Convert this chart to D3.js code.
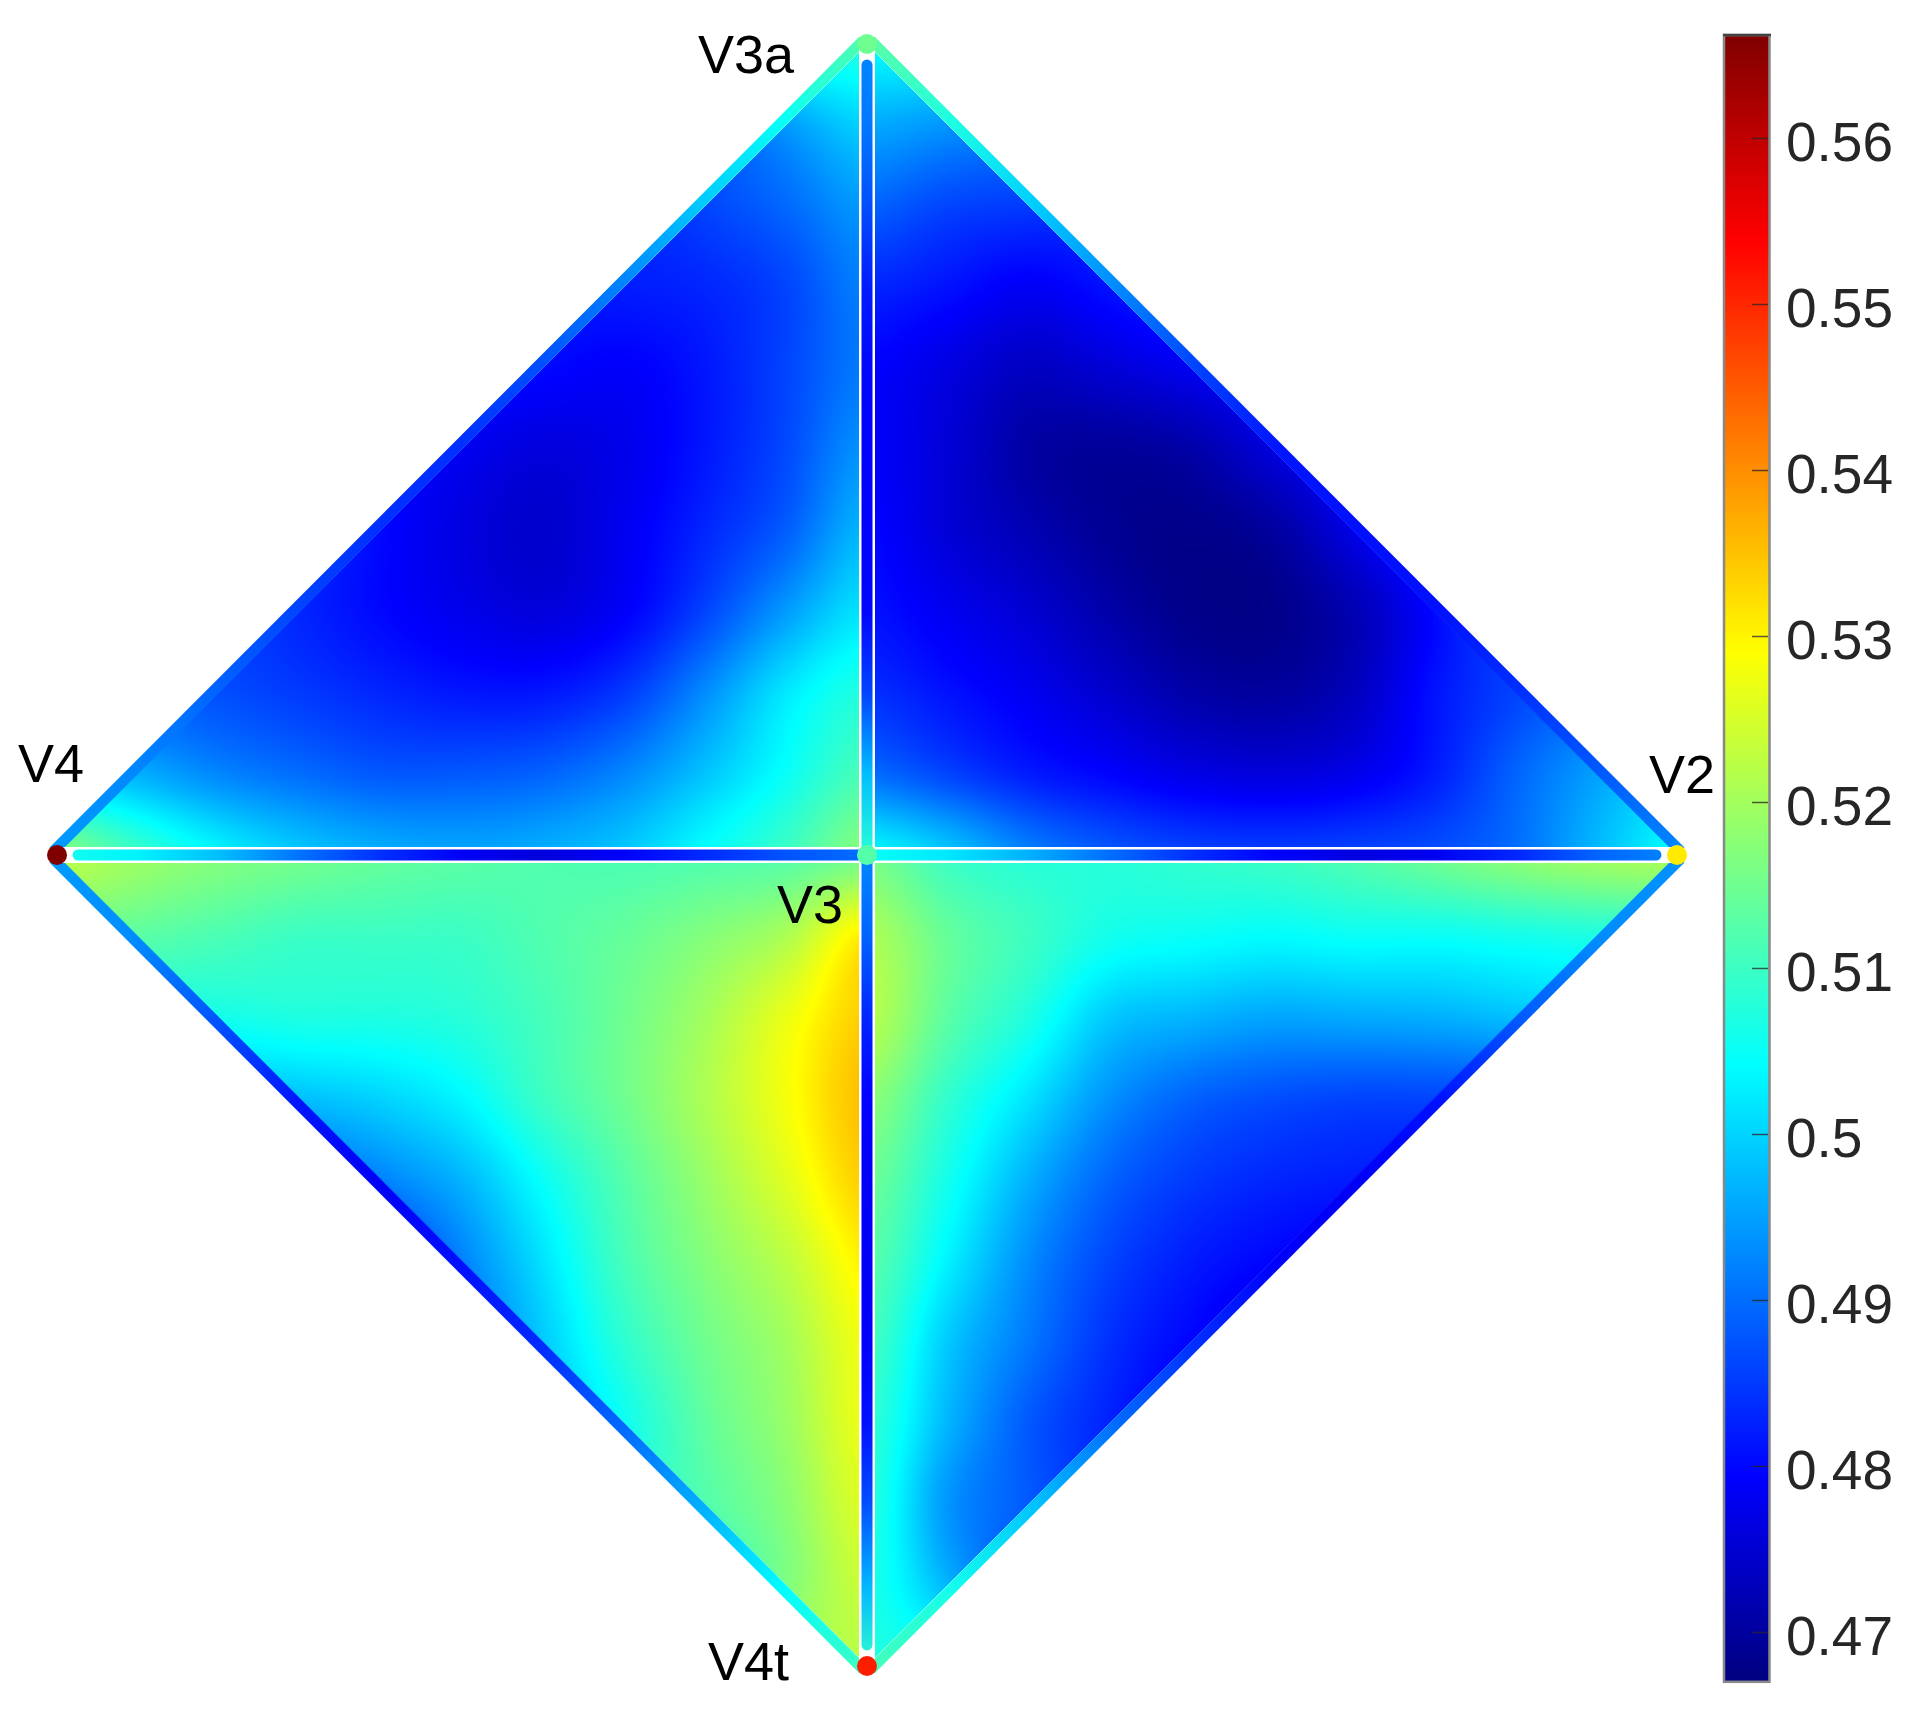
<!DOCTYPE html>
<html lang="en">
<head>
<meta charset="utf-8">
<title>V2 V3 V3a V4 V4t map</title>
<style type="text/css">
body { margin: 0; background: #fff; }
canvas, svg { position: absolute; left: 0; top: 0; }
text { font-family: "Liberation Sans", Arial, sans-serif; }
</style>
<script src="https://cdn.jsdelivr.net/npm/d3@7"></script>
</head>
<body>
<canvas id="field" width="1912" height="1712"></canvas>
<script type="text/javascript">
// each quadrant: row i is distance 0.1*i from the centre along y, column j is 0.1*j along x
var topRight = [
 [.504,.499,.492,.488,.486,.4855,.486,.487,.490,.4975,.505],
 [.490,.486,.482,.4795,.477,.476,.4775,.482,.489,.495],
 [.484,.481,.478,.4745,.471,.470,.473,.481,.486],
 [.481,.478,.475,.471,.468,.468,.472,.480],
 [.480,.4755,.472,.469,.468,.470,.477],
 [.479,.4755,.4705,.4695,.471,.476],
 [.4795,.4765,.4735,.4755,.478],
 [.483,.481,.4785,.481],
 [.489,.486,.485],
 [.496,.494],
 [.504]
];
var topLeft = [
 [.5175,.510,.5045,.499,.4965,.4955,.4965,.499,.5035,.510,.518],
 [.5115,.505,.4985,.4925,.489,.488,.488,.490,.4925,.4965],
 [.5075,.502,.493,.485,.4815,.4815,.483,.485,.487],
 [.502,.4945,.486,.479,.476,.4775,.480,.483],
 [.4975,.4885,.483,.478,.4745,.4765,.480],
 [.494,.4865,.4815,.4775,.476,.478],
 [.4915,.486,.4815,.479,.480],
 [.492,.486,.483,.482],
 [.4945,.4895,.486],
 [.500,.4945],
 [.507]
];
var bottomLeft = [
 [.515,.5125,.512,.5115,.512,.513,.514,.5155,.517,.5195,.523],
 [.531,.521,.517,.514,.512,.510,.510,.510,.5115,.513],
 [.534,.527,.520,.515,.511,.508,.507,.507,.506],
 [.5355,.528,.521,.515,.510,.5035,.500,.498],
 [.534,.526,.519,.5125,.505,.497,.492],
 [.5305,.5225,.517,.511,.5015,.492],
 [.528,.520,.515,.5085,.499],
 [.5275,.519,.5135,.5055],
 [.526,.5175,.512],
 [.524,.5165],
 [.522]
];
var bottomRight = [
 [.516,.510,.508,.508,.509,.510,.512,.515,.518,.520,.521],
 [.521,.514,.510,.506,.505,.5042,.505,.505,.506,.507],
 [.522,.513,.507,.499,.497,.4955,.496,.4965,.498],
 [.518,.509,.5015,.4935,.489,.487,.486,.486],
 [.515,.506,.4965,.489,.485,.483,.482],
 [.513,.503,.493,.486,.482,.4795],
 [.511,.499,.491,.484,.4795],
 [.509,.497,.488,.4825],
 [.508,.494,.488],
 [.507,.497],
 [.507]
];

// rim values, sampled every tenth of the way between the named areas
var rimV3aV2  = [.513,.507,.4995,.493,.486,.4815,.481,.481,.484,.488,.4925];
var rimV2V4t  = [.4935,.493,.488,.481,.4785,.479,.484,.490,.4985,.506,.511];
var rimV4V4t  = [.4945,.493,.4875,.4815,.4785,.481,.4835,.4895,.4965,.504,.510];
var rimV4V3a  = [.4945,.4925,.489,.486,.484,.484,.487,.492,.499,.505,.512];

// borders between the areas, sampled from V3 outwards
var borderV3V3a = [.508,.498,.486,.480,.4795,.4795,.480,.482,.487,.491,.4925];
var borderV3V4t = [.4925,.489,.483,.4795,.4785,.4785,.479,.481,.487,.497,.509];
var borderV3V4  = [.490,.4875,.4835,.479,.476,.4785,.484,.4905,.498,.503,.506];
var borderV3V2  = [.505,.502,.4965,.490,.484,.4795,.4765,.478,.483,.489,.4925];

var areaNames  = ["V3a","V3","V4","V2","V4t"];
var areaValues = [.515,.5125,.5662,.531,.551];
var areaX      = [0,0,-1,1,0];
var areaY      = [1,0,0,0,-1];

var colorbarTicks = [.47,.48,.49,.5,.51,.52,.53,.54,.55,.56];
var valueMin = .467, valueMax = .5662;

var x = d3.scaleLinear().domain([-1,1]).range([57,1677]);
var y = d3.scaleLinear().domain([-1,1]).range([1666,44]);

// jet
var jetStops  = [0,.125,.375,.625,.875,1];
var jetColors = ["#000080","#0000ff","#00ffff","#ffff00","#ff0000","#800000"];
var color = d3.scaleLinear()
    .domain(jetStops.map(function(t){ return valueMin + t*(valueMax-valueMin); }))
    .range(jetColors)
    .clamp(true);

// lookup table so the pixel loop does not parse colour strings
var lut = d3.range(2048).map(function(i){
    return d3.rgb(color(valueMin + i/2047*(valueMax-valueMin)));
});
var lutIndex = d3.scaleLinear().domain([valueMin,valueMax]).range([0,2047]).clamp(true);

function cellValue(grid, i, j) {
    i = Math.max(0, Math.min(10, i));
    j = Math.max(0, j);
    var row = grid[i], last = row.length-1;
    if (j <= last) return row[j];
    if (last == 0) return row[0];
    return row[last] + (row[last]-row[last-1])*(j-last);
}

function cubic(a, b, c, d, t) {
    return b + 0.5*t*(c-a + t*(2*a-5*b+4*c-d + t*(3*(b-c)+d-a)));
}

function gridValue(grid, u, v) {
    var gu = u*10, gv = v*10;
    var i = Math.floor(gv), j = Math.floor(gu);
    var fu = gu-j, fv = gv-i;
    var rows = [-1,0,1,2].map(function(di){
        return cubic(cellValue(grid,i+di,j-1), cellValue(grid,i+di,j),
                     cellValue(grid,i+di,j+1), cellValue(grid,i+di,j+2), fu);
    });
    return cubic(rows[0],rows[1],rows[2],rows[3],fv);
}

var ctx = document.getElementById("field").getContext("2d");
var img = ctx.createImageData(1912,1712);
for (var py = Math.floor(y(1)); py <= y(-1); py++) {
    for (var px = Math.floor(x(-1)); px <= x(1); px++) {
        var dx = x.invert(px+.5), dy = y.invert(py+.5);
        var u = Math.abs(dx), v = Math.abs(dy);
        if (u+v > 1) continue;
        var grid = dy >= 0 ? (dx >= 0 ? topRight : topLeft) : (dx >= 0 ? bottomRight : bottomLeft);
        var c = lut[Math.round(lutIndex(gridValue(grid,u,v)))];
        var k = (py*1912+px)*4;
        img.data[k] = c.r; img.data[k+1] = c.g; img.data[k+2] = c.b; img.data[k+3] = 255;
    }
}
ctx.putImageData(img,0,0);

var svg = d3.select("body").append("svg").attr("width",1912).attr("height",1712);
var defs = svg.append("defs");

function gradient(id, x1, y1, x2, y2, stops) {
    var g = defs.append("linearGradient").attr("id",id)
        .attr("gradientUnits","userSpaceOnUse")
        .attr("x1",x1).attr("y1",y1).attr("x2",x2).attr("y2",y2);
    g.selectAll("stop").data(stops).enter().append("stop")
        .attr("offset", function(d,i){ return i/(stops.length-1); })
        .attr("stop-color", function(d){ return color(d); });
}

// outer rim of the diamond, the band sits just outside the vertex to vertex line
var rimWidth = 10.6, rimShift = rimWidth/2*Math.SQRT1_2;
var rims = [
 {id:"rimA", from:[0,1],  to:[1,0],  out:[1,-1],  values:rimV3aV2},
 {id:"rimB", from:[1,0],  to:[0,-1], out:[1,1],   values:rimV2V4t},
 {id:"rimC", from:[-1,0], to:[0,-1], out:[-1,1],  values:rimV4V4t},
 {id:"rimD", from:[-1,0], to:[0,1],  out:[-1,-1], values:rimV4V3a}
];
rims.forEach(function(r){
    gradient(r.id, x(r.from[0]), y(r.from[1]), x(r.to[0]), y(r.to[1]), r.values);
    svg.append("line")
        .attr("transform","translate("+(r.out[0]*rimShift)+","+(r.out[1]*rimShift)+")")
        .attr("x1",x(r.from[0])).attr("y1",y(r.from[1]))
        .attr("x2",x(r.to[0])).attr("y2",y(r.to[1]))
        .attr("stroke","url(#"+r.id+")")
        .attr("stroke-width",rimWidth);
});

// white casing, then the coloured border strips on top
svg.append("line").attr("x1",x(-1)).attr("x2",x(1)).attr("y1",y(0)).attr("y2",y(0))
    .attr("stroke","#fff").attr("stroke-width",16);
svg.append("line").attr("x1",x(0)).attr("x2",x(0)).attr("y1",y(-1)).attr("y2",y(1))
    .attr("stroke","#fff").attr("stroke-width",16);

var borders = [
 {id:"borderA", to:[0,1],  values:borderV3V3a},
 {id:"borderB", to:[0,-1], values:borderV3V4t},
 {id:"borderC", to:[-1,0], values:borderV3V4},
 {id:"borderD", to:[1,0],  values:borderV3V2}
];
borders.forEach(function(b){
    gradient(b.id, x(0), y(0), x(b.to[0]), y(b.to[1]), b.values);
    // stop short of the vertex so the casing shows round the end
    var stop = 0.974;
    var x2 = x(b.to[0]*stop), y2 = y(b.to[1]*stop);
    svg.append("line")
        .attr("x1",x(0)).attr("y1",y(0)).attr("x2",x2).attr("y2",y2)
        .attr("stroke","url(#"+b.id+")")
        .attr("stroke-width",11)
        .attr("stroke-linecap","round");
});

svg.selectAll("circle.node")
    .data(areaNames)
    .enter().append("circle")
    .attr("class","node")
    .attr("cx", function(d,i){ return x(areaX[i]); })
    .attr("cy", function(d,i){ return y(areaY[i]); })
    .attr("r",10)
    .attr("fill", function(d,i){ return color(areaValues[i]); });

// area labels sit by hand next to their vertices
var labelPos = {V3a:[698,73], V3:[777,923], V4:[18,782], V2:[1649,793], V4t:[708,1680]};
svg.selectAll("text.area")
    .data(areaNames)
    .enter().append("text")
    .attr("class","area")
    .attr("x", function(d){ return labelPos[d][0]; })
    .attr("y", function(d){ return labelPos[d][1]; })
    .attr("font-size",54)
    .attr("fill","#000")
    .text(function(d){ return d; });

// colorbar
var barY = d3.scaleLinear().domain([.47,.56]).range([1632,138]);
var barTop = barY(valueMax), barBottom = barY(valueMin);
var barGrad = defs.append("linearGradient").attr("id","bar")
    .attr("gradientUnits","userSpaceOnUse")
    .attr("x1",0).attr("x2",0).attr("y1",barBottom).attr("y2",barTop);
barGrad.selectAll("stop").data(jetStops).enter().append("stop")
    .attr("offset", function(d){ return d; })
    .attr("stop-color", function(d,i){ return jetColors[i]; });

svg.append("rect")
    .attr("x",1724).attr("y",barTop).attr("width",45.5).attr("height",barBottom-barTop)
    .attr("fill","url(#bar)")
    .attr("stroke","#888").attr("stroke-width",2.5);
svg.append("line")
    .attr("x1",1723).attr("x2",1771).attr("y1",barTop).attr("y2",barTop)
    .attr("stroke","#444").attr("stroke-width",2.5);

var tickAxis = svg.append("g")
    .attr("transform","translate(1768,0)")
    .call(d3.axisLeft(barY).tickValues(colorbarTicks).tickSize(16).tickFormat(""));
tickAxis.select(".domain").remove();
tickAxis.selectAll("line").attr("stroke","#262626").attr("stroke-opacity",.75).attr("stroke-width",1.5);

var labelAxis = svg.append("g")
    .attr("transform","translate(1768,0)")
    .call(d3.axisRight(barY).tickValues(colorbarTicks).tickSize(0).tickPadding(18).tickFormat(String));
labelAxis.select(".domain").remove();
labelAxis.selectAll("text")
    .attr("font-size",55)
    .attr("fill","#262626")
    .attr("dy","0.4em");
labelAxis.attr("font-family",null).attr("font-size",null);
</script>
</body>
</html>
